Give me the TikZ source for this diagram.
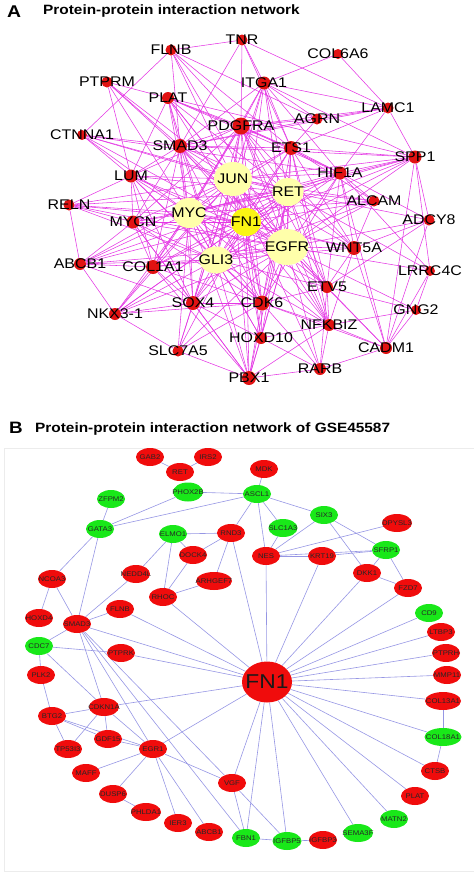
\documentclass[tikz,border=0pt]{standalone}
\usepackage{fontspec}
\setmainfont{Liberation Sans}[FakeStretch=1.14]
\usetikzlibrary{shapes.geometric,backgrounds}
\definecolor{dotred}{RGB}{225,18,18}
\definecolor{hubyel}{RGB}{255,255,170}
\definecolor{fnyel}{RGB}{250,245,20}
\definecolor{medge}{RGB}{228,55,228}
\definecolor{bred}{RGB}{240,12,12}
\definecolor{bgreen}{RGB}{25,232,25}
\definecolor{bedge}{RGB}{150,150,228}
\tikzset{
  adot/.style={circle, fill=dotred, draw=none, inner sep=0pt, minimum size=#1},
  hub/.style={ellipse, fill=hubyel, draw=none, inner sep=0pt},
  alab/.style={font=\fontsize{14}{14}\selectfont, inner sep=0pt, text=black},
  aedge/.style={draw=medge, line width=0.55pt},
  bn/.style={ellipse, fill=#1, draw=none, inner sep=0pt, minimum width=28, minimum height=18},
  blab/.style={font=\fontsize{6.8}{7}\selectfont, inner sep=0pt, text=black!85},
  bedgest/.style={draw=bedge, line width=0.6pt},
  ttl/.style={anchor=base west, font=\fontsize{13.5}{14}\selectfont\bfseries, inner sep=0pt},
  letter/.style={anchor=base west, font=\fontsize{17}{17}\selectfont\bfseries, inner sep=0pt}
}
\begin{document}
\begin{tikzpicture}[x=1pt,y=-1pt]
\useasboundingbox (0,0) rectangle (474,876);
% ---------------- Panel A ----------------
\node[letter] (letA) at (7,17) {A};
\node[ttl] (titleA) at (43,14) {Protein-protein interaction network};

\node[adot=11, label={[alab]center:TNR}] (Atnr) at (242,40) {};
\node[adot=11, label={[alab]center:FLNB}] (Aflnb) at (171,50) {};
\node[adot=10, label={[alab]center:COL6A6}] (Acol6a6) at (338,54) {};
\node[adot=11, label={[alab]center:PTPRM}] (Aptprm) at (107,82) {};
\node[adot=13, label={[alab]center:ITGA1}] (Aitga1) at (264,83) {};
\node[adot=12, label={[alab]center:PLAT}] (Aplat) at (168,98) {};
\node[adot=11, label={[alab]center:LAMC1}] (Alamc1) at (388,108) {};
\node[adot=11, label={[alab]center:AGRN}] (Aagrn) at (317,119) {};
\node[adot=17, label={[alab]center:PDGFRA}] (Apdgfra) at (241,126) {};
\node[adot=10, label={[alab]center:CTNNA1}] (Actnna1) at (82,135) {};
\node[adot=14, label={[alab]center:SMAD3}] (Asmad3) at (180,146) {};
\node[adot=14, label={[alab]center:ETS1}] (Aets1) at (291,148) {};
\node[adot=13, label={[alab]center:SPP1}] (Aspp1) at (415,157) {};
\node[adot=13, label={[alab]center:LUM}] (Alum) at (131,176) {};
\node[adot=13, label={[alab]center:HIF1A}] (Ahif1a) at (340,173) {};
\node[adot=11, label={[alab]center:RELN}] (Areln) at (69,205) {};
\node[adot=11, label={[alab]center:ALCAM}] (Aalcam) at (374,201) {};
\node[adot=13, label={[alab]center:MYCN}] (Amycn) at (133,222) {};
\node[adot=11, label={[alab]center:ADCY8}] (Aadcy8) at (429,220) {};
\node[adot=14, label={[alab]center:WNT5A}] (Awnt5a) at (354,248) {};
\node[adot=12, label={[alab]center:ABCB1}] (Aabcb1) at (80,264) {};
\node[adot=14, label={[alab]center:COL1A1}] (Acol1a1) at (153,267) {};
\node[adot=10, label={[alab]center:LRRC4C}] (Alrrc4c) at (430,271) {};
\node[adot=12, label={[alab]center:ETV5}] (Aetv5) at (327,287) {};
\node[adot=14, label={[alab]center:SOX4}] (Asox4) at (193,303) {};
\node[adot=15, label={[alab]center:CDK6}] (Acdk6) at (262,303) {};
\node[adot=12, label={[alab]center:NKX3-1}] (Ankx31) at (115,314) {};
\node[adot=10, label={[alab]center:GNG2}] (Agng2) at (416,310) {};
\node[adot=12, label={[alab]center:NFKBIZ}] (Anfkbiz) at (329,325) {};
\node[adot=12, label={[alab]center:HOXD10}] (Ahoxd10) at (261,338) {};
\node[adot=11, label={[alab]center:SLC7A5}] (Aslc7a5) at (178,351) {};
\node[adot=12, label={[alab]center:CADM1}] (Acadm1) at (386,348) {};
\node[adot=12, label={[alab]center:RARB}] (Ararb) at (320,369) {};
\node[adot=14, label={[alab]center:PBX1}] (Apbx1) at (249,378) {};

\node[hub, minimum width=38, minimum height=34, label={[alab]center:JUN}] (Ajun) at (233,179) {};
\node[hub, minimum width=31, minimum height=28, label={[alab]center:RET}] (Aret) at (288,192) {};
\node[hub, minimum width=32, minimum height=30, label={[alab]center:MYC}] (Amyc) at (189,213) {};
\node[hub, minimum width=42, minimum height=36, label={[alab]center:EGFR}] (Aegfr) at (287,247) {};
\node[hub, minimum width=33, minimum height=27, label={[alab]center:GLI3}] (Agli3) at (216,260) {};
\node[hub, fill=fnyel, minimum width=30, minimum height=28, label={[alab]center:FN1}] (Afn1) at (246,222) {};

\begin{pgfonlayer}{background}
\foreach \a/\b in {jun/ret,jun/myc,jun/fn1,jun/egfr,jun/gli3,ret/myc,ret/fn1,ret/egfr,ret/gli3,myc/fn1,myc/egfr,myc/gli3,fn1/egfr,fn1/gli3,egfr/gli3}
  \draw[aedge] (A\a) -- (A\b);
\foreach \h in {jun,ret,myc,fn1,egfr,gli3}
  \foreach \c in {pdgfra,smad3,ets1,hif1a,lum,mycn,col1a1,sox4,cdk6,etv5,wnt5a,nfkbiz,alcam,abcb1,hoxd10,pbx1,itga1,plat,spp1,reln,nkx31}
    \draw[aedge] (A\h) -- (A\c);
\foreach \a/\b in {pdgfra/smad3,pdgfra/ets1,pdgfra/hif1a,pdgfra/cdk6,pdgfra/lum,pdgfra/mycn,pdgfra/col1a1,pdgfra/wnt5a,
  smad3/lum,smad3/ets1,smad3/mycn,smad3/col1a1,smad3/cdk6,smad3/sox4,ets1/hif1a,ets1/cdk6,ets1/alcam,ets1/wnt5a,
  hif1a/alcam,hif1a/wnt5a,hif1a/etv5,hif1a/cdk6,lum/mycn,lum/col1a1,lum/reln,mycn/col1a1,mycn/sox4,col1a1/sox4,
  col1a1/cdk6,sox4/cdk6,cdk6/etv5,cdk6/nfkbiz,etv5/nfkbiz,etv5/wnt5a,wnt5a/alcam,wnt5a/nfkbiz,abcb1/col1a1,
  abcb1/mycn,abcb1/sox4,abcb1/reln,reln/mycn,
  tnr/flnb,tnr/lamc1,tnr/pdgfra,tnr/itga1,tnr/smad3,tnr/ets1,flnb/agrn,flnb/ctnna1,flnb/pdgfra,flnb/smad3,
  flnb/jun,flnb/ets1,flnb/egfr,col6a6/itga1,col6a6/lamc1,ptprm/smad3,ptprm/lum,ptprm/jun,ptprm/myc,ptprm/plat,
  ptprm/egfr,itga1/lamc1,itga1/agrn,itga1/pdgfra,itga1/smad3,itga1/ets1,itga1/spp1,itga1/hif1a,plat/pdgfra,
  plat/smad3,plat/hif1a,plat/spp1,plat/lum,plat/ets1,lamc1/agrn,lamc1/pdgfra,lamc1/spp1,lamc1/hif1a,lamc1/ets1,
  lamc1/smad3,agrn/pdgfra,agrn/ets1,agrn/smad3,ctnna1/smad3,ctnna1/lum,ctnna1/myc,ctnna1/jun,ctnna1/ret,
  ctnna1/egfr,ctnna1/hif1a,spp1/hif1a,spp1/ets1,spp1/adcy8,spp1/lrrc4c,spp1/cadm1,spp1/smad3,adcy8/wnt5a,
  adcy8/hif1a,adcy8/etv5,adcy8/cadm1,adcy8/ret,adcy8/egfr,lrrc4c/gng2,lrrc4c/egfr,lrrc4c/ret,lrrc4c/cadm1,
  lrrc4c/hif1a,gng2/cadm1,gng2/nfkbiz,gng2/egfr,gng2/etv5,cadm1/nfkbiz,cadm1/rarb,cadm1/egfr,cadm1/etv5,
  cadm1/wnt5a,cadm1/cdk6,cadm1/hif1a,nkx31/sox4,nkx31/slc7a5,nkx31/col1a1,nkx31/abcb1,nkx31/cdk6,slc7a5/sox4,
  slc7a5/pbx1,slc7a5/myc,slc7a5/fn1,slc7a5/jun,slc7a5/cdk6,slc7a5/egfr,pbx1/rarb,pbx1/hoxd10,pbx1/cdk6,
  pbx1/sox4,pbx1/nfkbiz,pbx1/col1a1,pbx1/mycn,rarb/nfkbiz,rarb/cdk6,rarb/egfr,rarb/hoxd10,rarb/etv5,rarb/jun,
  hoxd10/cdk6,hoxd10/sox4,hoxd10/nfkbiz,lum/sox4,lum/cdk6,mycn/cdk6,ets1/etv5,ets1/nfkbiz,pdgfra/etv5,
  pdgfra/nfkbiz,pdgfra/sox4}
  \draw[aedge] (A\a) -- (A\b);
\end{pgfonlayer}

% ---------------- Panel B ----------------
\draw[gray!15, line width=0.6pt] (474,448) -- (4.5,448) -- (4.5,871) -- (474,871);
\node[letter, font=\fontsize{16.5}{17}\selectfont\bfseries] (letB) at (9,433.5) {B};
\node[ttl] (titleB) at (35,432.5) {Protein-protein interaction network of GSE45587};

\node[bn=bred, label={[blab]center:GAB2}] (Bgab2) at (150,457) {};
\node[bn=bred, label={[blab]center:IRS2}] (Birs2) at (208,457) {};
\node[bn=bred, label={[blab]center:RET}] (Bret) at (180,472) {};
\node[bn=bred, label={[blab]center:MDK}] (Bmdk) at (264,469) {};
\node[bn=bgreen, label={[blab]center:ZFPM2}] (Bzfpm2) at (111,499) {};
\node[bn=bgreen, minimum width=30, minimum height=19, label={[blab]center:PHOX2B}] (Bphox2b) at (188,492) {};
\node[bn=bgreen, label={[blab]center:ASCL1}] (Bascl1) at (257,494) {};
\node[bn=bgreen, label={[blab]center:SIX3}] (Bsix3) at (324,515) {};
\node[bn=bred, minimum width=30, label={[blab]center:DPYSL3}] (Bdpysl3) at (397,523) {};
\node[bn=bgreen, label={[blab]center:GATA3}] (Bgata3) at (100,529) {};
\node[bn=bgreen, label={[blab]center:ELMO1}] (Belmo1) at (173,534) {};
\node[bn=bred, label={[blab]center:RND3}] (Brnd3) at (231,533) {};
\node[bn=bgreen, minimum width=29, label={[blab]center:SLC1A3}] (Bslc1a3) at (283,528) {};
\node[bn=bgreen, label={[blab]center:SFRP1}] (Bsfrp1) at (386,550) {};
\node[bn=bred, label={[blab]center:NES}] (Bnes) at (266,556) {};
\node[bn=bred, label={[blab]center:KRT19}] (Bkrt19) at (322,556) {};
\node[bn=bred, label={[blab]center:DOCK4}] (Bdock4) at (193,555) {};
\node[bn=bred, label={[blab]center:DKK1}] (Bdkk1) at (367,573) {};
\node[bn=bred, label={[blab]center:FZD7}] (Bfzd7) at (408,588) {};
\node[bn=bred, label={[blab]center:NCOA3}] (Bncoa3) at (52,579) {};
\node[bn=bred, label={[blab]center:NEDD4L}] (Bnedd4l) at (136,574) {};
\node[bn=bred, minimum width=36, label={[blab]center:ARHGEF7}] (Barhgef7) at (214,581) {};
\node[bn=bred, label={[blab]center:RHOC}] (Brhoc) at (163,597) {};
\node[bn=bred, label={[blab]center:FLNB}] (Bflnb) at (120,609) {};
\node[bn=bred, label={[blab]center:HOXD4}] (Bhoxd4) at (39,618) {};
\node[bn=bred, label={[blab]center:SMAD3}] (Bsmad3) at (77,624) {};
\node[bn=bgreen, label={[blab]center:CD9}] (Bcd9) at (429,613) {};
\node[bn=bred, label={[blab]center:LTBP3}] (Bltbp3) at (441,632) {};
\node[bn=bgreen, label={[blab]center:CDC7}] (Bcdc7) at (39,646) {};
\node[bn=bred, label={[blab]center:PTPRK}] (Bptprk) at (121,653) {};
\node[bn=bred, label={[blab]center:PTPRH}] (Bptprh) at (446,653) {};
\node[bn=bred, minimum width=50, minimum height=41,
      label={[inner sep=0pt, text=black!90, font=\fontsize{20}{20}\selectfont]center:FN1}] (Bfn1) at (267,682) {};
\node[bn=bred, label={[blab]center:PLK2}] (Bplk2) at (41,675) {};
\node[bn=bred, label={[blab]center:MMP11}] (Bmmp11) at (447,675) {};
\node[bn=bred, minimum width=36, label={[blab]center:COL13A1}] (Bcol13a1) at (443,701) {};
\node[bn=bred, minimum width=30, label={[blab]center:CDKN1A}] (Bcdkn1a) at (104,707) {};
\node[bn=bred, label={[blab]center:BTG2}] (Bbtg2) at (52,716) {};
\node[bn=bred, label={[blab]center:GDF15}] (Bgdf15) at (108,739) {};
\node[bn=bgreen, minimum width=37, label={[blab]center:COL18A1}] (Bcol18a1) at (443,737) {};
\node[bn=bred, label={[blab]center:TP53I3}] (Btp53i3) at (68,749) {};
\node[bn=bred, label={[blab]center:EGR1}] (Begr1) at (153,749) {};
\node[bn=bred, label={[blab]center:MAFF}] (Bmaff) at (86,773) {};
\node[bn=bred, label={[blab]center:CTSB}] (Bctsb) at (435,771) {};
\node[bn=bred, label={[blab]center:VGF}] (Bvgf) at (232,783) {};
\node[bn=bred, label={[blab]center:PLAT}] (Bplat) at (415,796) {};
\node[bn=bred, label={[blab]center:DUSP6}] (Bdusp6) at (113,794) {};
\node[bn=bred, minimum width=30, label={[blab]center:PHLDA1}] (Bphlda1) at (146,812) {};
\node[bn=bgreen, label={[blab]center:MATN2}] (Bmatn2) at (394,819) {};
\node[bn=bred, label={[blab]center:IER3}] (Bier3) at (178,823) {};
\node[bn=bred, label={[blab]center:ABCB1}] (Babcb1) at (209,832) {};
\node[bn=bgreen, label={[blab]center:FBN1}] (Bfbn1) at (246,838) {};
\node[bn=bgreen, minimum width=29, label={[blab]center:IGFBP5}] (Bigfbp5) at (287,841) {};
\node[bn=bred, label={[blab]center:IGFBP3}] (Bigfbp3) at (323,840) {};
\node[bn=bgreen, minimum width=30, label={[blab]center:SEMA3F}] (Bsema3f) at (358,833) {};

\begin{pgfonlayer}{background}
\foreach \a/\b in {gab2/ret,irs2/ret,mdk/ascl1,phox2b/ascl1,zfpm2/gata3,gata3/phox2b,gata3/ascl1,ascl1/six3,
  ascl1/rnd3,ascl1/slc1a3,ascl1/nes,six3/nes,six3/sfrp1,six3/dkk1,dpysl3/nes,slc1a3/nes,nes/krt19,nes/sfrp1,
  krt19/sfrp1,sfrp1/dkk1,sfrp1/fzd7,dkk1/fzd7,elmo1/rnd3,elmo1/nedd4l,elmo1/rhoc,elmo1/dock4,rnd3/dock4,
  rnd3/arhgef7,rnd3/fn1,dock4/rhoc,arhgef7/rhoc,rhoc/fn1,nedd4l/smad3,gata3/smad3,gata3/ncoa3,ncoa3/hoxd4,
  ncoa3/smad3,smad3/flnb,smad3/cdc7,smad3/fn1,smad3/cdkn1a,smad3/egr1,smad3/vgf,smad3/fbn1,flnb/fn1,
  cdc7/ptprk,ptprk/fn1,cdc7/plk2,cdc7/cdkn1a,plk2/btg2,btg2/cdkn1a,btg2/tp53i3,btg2/gdf15,btg2/egr1,
  cdkn1a/gdf15,cdkn1a/tp53i3,cdkn1a/egr1,cdkn1a/fn1,gdf15/egr1,egr1/fn1,egr1/maff,egr1/dusp6,egr1/ier3,
  egr1/abcb1,egr1/vgf,dusp6/phlda1,vgf/fbn1,vgf/igfbp5,fn1/vgf,fn1/fbn1,fn1/igfbp5,fn1/sema3f,fn1/matn2,
  fn1/plat,fn1/ctsb,fn1/col18a1,fn1/col13a1,fn1/mmp11,fn1/ptprh,fn1/ltbp3,fn1/cd9,fn1/fzd7,fn1/dkk1,
  fn1/krt19,fn1/nes,fbn1/igfbp5,igfbp5/igfbp3,col13a1/col18a1,col18a1/ctsb}
  \draw[bedgest] (B\a) -- (B\b);
\end{pgfonlayer}
\end{tikzpicture}
\end{document}
